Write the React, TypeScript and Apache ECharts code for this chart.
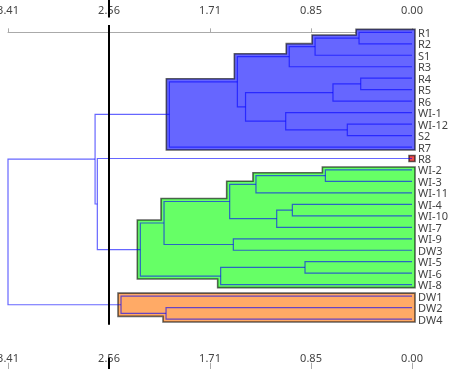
import React, { useEffect, useRef } from "react";
import * as echarts from "echarts";

// ---- data ----
const leaves = ["R1", "R2", "S1", "R3", "R4", "R5", "R6", "WI-1", "WI-12", "S2", "R7", "R8",
  "WI-2", "WI-3", "WI-11", "WI-4", "WI-10", "WI-7", "WI-9", "DW3", "WI-5", "WI-6", "WI-8", "DW1", "DW2", "DW4"];

// merge k joins mergeA[k] (upper) and mergeB[k] (lower) at mergeHeight[k]; "mN" refers to merge N
const mergeA = ["R1", "m0", "m1", "R4", "m3", "WI-12", "WI-1", "m4", "m2", "m8",
  "WI-2", "m10", "WI-4", "m12", "m11", "WI-9", "m14", "WI-5", "m17", "m16",
  "R8", "m9", "DW2", "DW1", "m21"];
const mergeB = ["R2", "S1", "R3", "R5", "R6", "S2", "m5", "m6", "m7", "R7",
  "WI-3", "WI-11", "WI-10", "WI-7", "m13", "DW3", "m15", "WI-6", "WI-8", "m18",
  "m19", "m20", "DW4", "m22", "m23"];
const mergeHeight = [0.447, 0.818, 1.036, 0.433, 0.667, 0.546, 1.066, 1.405, 1.474, 2.048,
  0.731, 1.317, 1.010, 1.142, 1.539, 1.508, 2.093, 0.903, 1.615, 2.293,
  2.656, 2.675, 2.076, 2.456, 3.41];

const clusterRoots = ["m9", "R8", "m19", "m23"];
const clusterFill = ["#6666ff", "#ee4d4d", "#66ff66", "#ffaa66"];

const xMax = 3.41;
const xInterval = 0.8525;
const cutoff = 2.5575;

type Node = { h: number; y: number; a?: string; b?: string };

function buildNodes() {
  const nodes: Record<string, Node> = {};
  leaves.forEach((n, i) => (nodes[n] = { h: 0, y: i }));
  mergeHeight.forEach((h, k) => {
    const a = nodes[mergeA[k]];
    const b = nodes[mergeB[k]];
    nodes["m" + k] = { h, y: (a.y + b.y) / 2, a: mergeA[k], b: mergeB[k] };
  });
  return nodes;
}

export default function App() {
  const ref = useRef<HTMLDivElement>(null);
  useEffect(() => {
    if (!ref.current) return;
    const chart = echarts.init(ref.current, undefined, { renderer: "svg" });
    const nodes = buildNodes();
    const pad = 3;
    const lineColor = "rgba(0,0,255,0.6)";

    const chain = (root: string, side: "a" | "b") => {
      const segs: [number, number][] = [];
      let cur = nodes[root];
      while (cur.a) {
        const child = nodes[side === "a" ? cur.a : (cur.b as string)];
        segs.push([cur.h, child.y]);
        cur = child;
      }
      return segs;
    };

    const fontFamily = "Noto Sans";
    const labelColor = "#444";

    chart.setOption({
      animation: false,
      textStyle: { fontFamily },
      grid: { left: 8, right: 62, top: 26.6, height: 298.2, containLabel: false, outerBoundsMode: "none" },
      xAxis: [
        {
          type: "value", position: "top", inverse: true, min: 0, max: xMax, interval: xInterval,
          offset: 9,
          splitLine: { show: false },
          axisLine: { show: true, lineStyle: { color: "#aaa" } },
          axisTick: { show: true, length: 4, lineStyle: { color: "#aaa" } },
          axisLabel: { show: true, margin: 3, fontSize: 11, lineHeight: 11, color: labelColor, fontFamily,
            showMinLabel: true, showMaxLabel: true, hideOverlap: false,
            formatter: (v: number) => v.toFixed(2) },
        },
        {
          type: "value", position: "bottom", inverse: true, min: 0, max: xMax, interval: xInterval,
          offset: 45,
          splitLine: { show: false },
          axisLine: { show: false },
          axisTick: { show: true, inside: true, length: 7, lineStyle: { color: "#aaa" } },
          axisLabel: { show: true, inside: true, margin: 7, fontSize: 11, lineHeight: 11, color: labelColor, fontFamily,
            showMinLabel: true, showMaxLabel: true, hideOverlap: false,
            formatter: (v: number) => v.toFixed(2) },
        },
      ],
      yAxis: [
        { type: "value", inverse: true, min: -0.5, max: leaves.length - 0.5, show: false },
        {
          type: "category", position: "right", inverse: true, data: leaves,
          axisLine: { show: false }, axisTick: { show: false }, splitLine: { show: false },
          axisLabel: { margin: 6, fontSize: 11, lineHeight: 11, color: labelColor, fontFamily, interval: 0 },
        },
      ],
      series: [
        {
          type: "custom", xAxisIndex: 0, yAxisIndex: 0, z: 1, clip: false,
          data: clusterRoots.map((r, i) => [nodes[r].h, nodes[r].y, i]),
          encode: { x: 0, y: 1 },
          renderItem: (params: any, api: any) => {
            const idx = api.value(2);
            const root = clusterRoots[idx];
            const P = (h: number, y: number) => api.coord([h, y]);
            const pts: number[][] = [];
            const n = nodes[root];
            if (!n.a) {
              const c = P(0, n.y);
              pts.push([c[0] - pad, c[1] - pad], [c[0] + pad, c[1] - pad], [c[0] + pad, c[1] + pad], [c[0] - pad, c[1] + pad]);
            } else {
              const top = chain(root, "a");
              top.forEach(([h, y], i) => {
                const x = P(h, y)[0] - pad;
                if (i > 0) pts.push([x, P(h, top[i - 1][1])[1] - pad]);
                pts.push([x, P(h, y)[1] - pad]);
              });
              const lt = top[top.length - 1];
              pts.push([P(0, lt[1])[0] + pad, P(0, lt[1])[1] - pad]);
              const bot = chain(root, "b");
              const lb = bot[bot.length - 1];
              pts.push([P(0, lb[1])[0] + pad, P(0, lb[1])[1] + pad]);
              for (let i = bot.length - 1; i >= 0; i--) {
                const [h, y] = bot[i];
                const x = P(h, y)[0] - pad;
                pts.push([x, P(h, y)[1] + pad]);
                if (i > 0) pts.push([x, P(h, bot[i - 1][1])[1] + pad]);
              }
            }
            return {
              type: "polygon",
              shape: { points: pts },
              style: { fill: clusterFill[idx], stroke: "rgba(0,0,0,0.6)", lineWidth: 1.6 },
            };
          },
        },
        {
          type: "custom", xAxisIndex: 0, yAxisIndex: 0, z: 2, clip: false,
          data: mergeHeight.map((h, k) => [h, nodes["m" + k].y, k]),
          encode: { x: 0, y: 1 },
          renderItem: (params: any, api: any) => {
            const k = api.value(2);
            const m = nodes["m" + k];
            const a = nodes[mergeA[k]];
            const b = nodes[mergeB[k]];
            const p1 = api.coord([a.h, a.y]);
            const p2 = api.coord([m.h, a.y]);
            const p3 = api.coord([m.h, b.y]);
            const p4 = api.coord([b.h, b.y]);
            return {
              type: "polyline",
              shape: { points: [p1, p2, p3, p4] },
              style: { fill: null, stroke: lineColor, lineWidth: 1.2 },
            };
          },
        },
        {
          type: "custom", xAxisIndex: 0, yAxisIndex: 0, z: 3, clip: false,
          data: [[cutoff, 0]],
          encode: { x: 0, y: 1 },
          renderItem: (params: any, api: any) => {
            const x = api.coord([api.value(0), 0])[0];
            const cs = params.coordSys;
            const top = cs.y;
            const bottom = cs.y + cs.height;
            const st = { stroke: "#000", lineWidth: 2 };
            return {
              type: "group",
              children: [
                { type: "line", shape: { x1: x, y1: 0, x2: x, y2: top - 9 }, style: st },
                { type: "line", shape: { x1: x, y1: top - 1.5, x2: x, y2: bottom }, style: st },
                { type: "line", shape: { x1: x, y1: bottom + 33, x2: x, y2: bottom + 46 }, style: st },
              ],
            };
          },
        },
      ],
    });
    return () => chart.dispose();
  }, []);
  return <div ref={ref} style={{ position: "fixed", left: 0, top: 0, width: 474, height: 369 }} />;
}
